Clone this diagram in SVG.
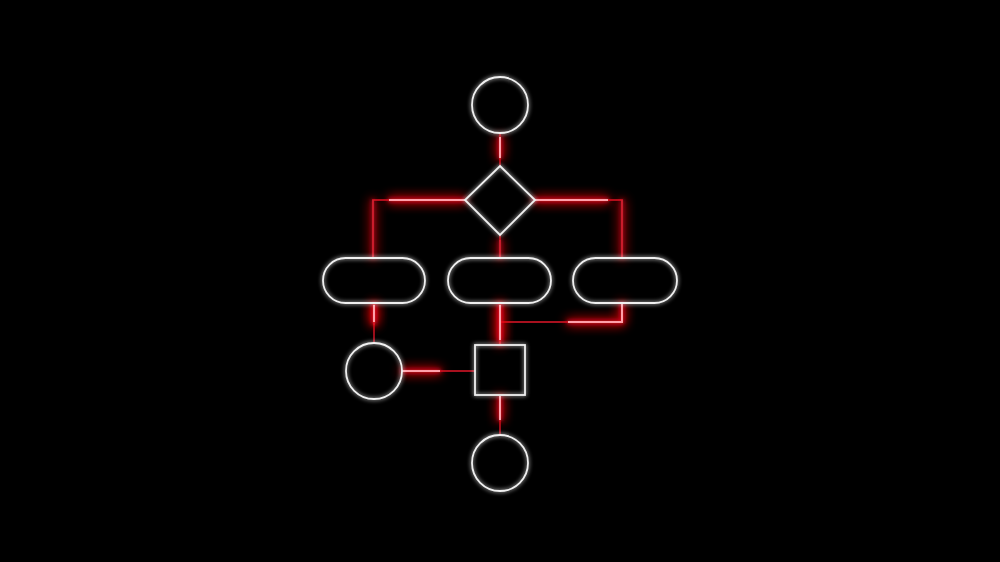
<svg xmlns="http://www.w3.org/2000/svg" width="1000" height="562" viewBox="0 0 1000 562">
<defs>
<filter id="glowW" x="-30%" y="-30%" width="160%" height="160%">
<feGaussianBlur in="SourceGraphic" stdDeviation="2" result="b"/>
<feMerge><feMergeNode in="b"/><feMergeNode in="SourceGraphic"/></feMerge>
</filter>
<filter id="glowR" x="0" y="0" width="1000" height="562" filterUnits="userSpaceOnUse">
<feMorphology in="SourceAlpha" operator="dilate" radius="1" result="d"/>
<feFlood flood-color="#f01020" flood-opacity="0.85" result="f"/>
<feComposite in="f" in2="d" operator="in" result="c"/>
<feGaussianBlur in="c" stdDeviation="6" result="b"/>
<feGaussianBlur in="c" stdDeviation="2" result="b2"/>
<feMerge><feMergeNode in="b"/><feMergeNode in="b"/><feMergeNode in="b2"/><feMergeNode in="SourceGraphic"/></feMerge>
</filter>
<style>
.node{fill:none;stroke:#f0f0f0;stroke-width:1.8;filter:url(#glowW)}
.dim{fill:none;stroke:#a8101e;stroke-width:1.8}
.mid{fill:none;stroke:#e02030;stroke-width:2;filter:url(#glowR);opacity:0.7}
.hot{fill:none;stroke:#ffa0aa;stroke-width:2;filter:url(#glowR)}
</style>
</defs>
<rect width="1000" height="562" fill="#000"/>
<g id="connectors">
<path class="dim" d="M500 133V166M465 200H373V258M534 200H622V258M500 235V258M374 303V343M500 303V345M500 322H622V303M402 371H475M500 395V436"/>
<path class="mid" d="M373 200V258M622 200V258M500 240V258M374 303V325M500 303V345"/>
<path class="hot" d="M500 137V158M389 200H465M534 200H608M374 305V322M500 305V340M568 322H622V303M402 371H440M500 396V420"/>
</g>
<g id="start"><circle class="node" cx="500" cy="105" r="28"/></g>
<g id="decision"><path class="node" d="M500 166L535 200L500 235L465 200Z"/></g>
<g id="processLeft"><rect class="node" x="323" y="258" width="102" height="45" rx="22.5"/></g>
<g id="processMiddle"><rect class="node" x="448" y="258" width="103" height="45" rx="22.5"/></g>
<g id="processRight"><rect class="node" x="573" y="258" width="104" height="45" rx="22.5"/></g>
<g id="connectorLeft"><circle class="node" cx="374" cy="371" r="28"/></g>
<g id="merge"><rect class="node" x="475" y="345" width="50" height="50"/></g>
<g id="end"><circle class="node" cx="500" cy="463" r="28"/></g>
</svg>
